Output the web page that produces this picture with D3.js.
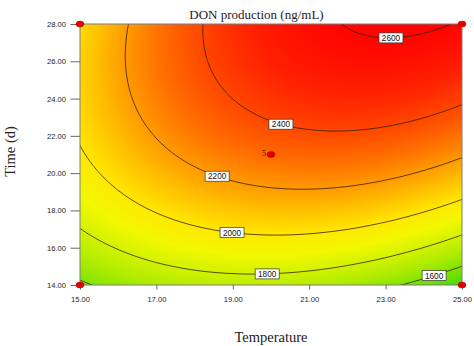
<!DOCTYPE html>
<html><head><meta charset="utf-8">
<script src="https://cdn.jsdelivr.net/npm/d3@7"></script>
<style>body{margin:0;background:#fff}svg{display:block}</style>
</head><body>
<svg id="c" width="474" height="346"></svg>
<script>
// ---------------- data ----------------
const levels = [1600, 1800, 2000, 2200, 2400, 2600];
const xTicks = [15, 17, 19, 21, 23, 25];
const yTicks = [14, 16, 18, 20, 22, 24, 26, 28];
// contour readings [temperature, time] for each response level
const c1600 = [[15.03,14.21],[15.30,14.0],[23.46,14.0],[24.42,14.63],[25.03,14.98]];
const c1800 = [[15.03,17.0],[15.81,16.15],[16.69,15.43],[17.57,14.90],[18.40,14.68],[19.27,14.57],[21.02,14.90],[21.86,15.05],[23.55,15.70],[25.03,16.72]];
const c2000 = [[15.03,21.24],[15.12,20.80],[15.81,19.54],[16.69,18.29],[17.57,17.40],[18.40,16.95],[19.71,16.68],[20.58,16.64],[21.86,16.87],[23.55,17.76],[25.03,18.65]];
const c2200 = [[16.26,28.0],[16.17,26.34],[16.34,24.53],[16.82,22.74],[17.30,21.03],[18.35,20.17],[19.27,19.27],[20.58,19.10],[21.86,19.19],[23.55,19.99],[25.03,20.80]];
const c2400 = [[18.22,28.0],[18.30,26.34],[18.40,25.43],[19.27,23.46],[20.26,22.77],[21.86,22.21],[23.55,22.74],[25.03,23.67]];
const c2600 = [[21.94,27.95],[22.51,27.41],[23.14,27.24],[23.93,27.41],[24.61,27.95]];
const labelTemps = [24.27, 19.9, 18.98, 18.59, 20.26, 23.14];
const designTemp = [15, 15, 25, 25, 20];
const designTime = [14, 28, 14, 28, 21];
const designLabel = ["", "", "", "", "5"];

// ---------------- surface fit (cubic in coded factors) ----------------
const readings = [[1600,c1600],[1800,c1800],[2000,c2000],[2200,c2200],[2400,c2400],[2600,c2600]];
function basis(T, t) {
  const A = (T - 20) / 5, B = (t - 21) / 7;
  return [1, A, B, A*B, A*A, B*B, A*A*B, A*B*B, A*A*A, B*B*B];
}
const K = 10;
const M = Array.from({length: K}, () => new Array(K).fill(0));
const V = new Array(K).fill(0);
readings.forEach(([lev, pts]) => pts.forEach(([T, t]) => {
  const p = basis(T, t);
  for (let i = 0; i < K; i++) { V[i] += p[i] * lev; for (let j = 0; j < K; j++) M[i][j] += p[i] * p[j]; }
}));
for (let i = 0; i < K; i++) M[i][i] += 1e-6;
function solve(A, b) {
  const n = b.length; A = A.map(r => r.slice()); b = b.slice();
  for (let c = 0; c < n; c++) {
    let piv = c;
    for (let r = c + 1; r < n; r++) if (Math.abs(A[r][c]) > Math.abs(A[piv][c])) piv = r;
    [A[c], A[piv]] = [A[piv], A[c]]; [b[c], b[piv]] = [b[piv], b[c]];
    for (let r = c + 1; r < n; r++) {
      const f = A[r][c] / A[c][c];
      for (let k = c; k < n; k++) A[r][k] -= f * A[c][k];
      b[r] -= f * b[c];
    }
  }
  const x = new Array(n).fill(0);
  for (let r = n - 1; r >= 0; r--) {
    let s = b[r];
    for (let k = r + 1; k < n; k++) s -= A[r][k] * x[k];
    x[r] = s / A[r][r];
  }
  return x;
}
const coef = solve(M, V);
const response = (T, t) => d3.sum(basis(T, t), (v, i) => v * coef[i]);

// ---------------- layout ----------------
const svg = d3.select("#c");
const x = d3.scaleLinear().domain([15, 25]).range([80, 462]);
const y = d3.scaleLinear().domain([14, 28]).range([285, 24]);
const color = d3.scaleLinear()
  .domain([1480, 1700, 1900, 2000, 2100, 2200, 2300, 2400, 2500, 2600])
  .range(["#48da00", "#b0ec00", "#f2f800", "#ffe800", "#ffc400", "#ff9a00", "#ff6e00", "#ff4600", "#ff2000", "#ff0400"])
  .interpolate(d3.interpolateRgb).clamp(true);

// gradient fill
const pw = 382, ph = 261;
const cv = document.createElement("canvas");
cv.width = pw; cv.height = ph;
const ctx = cv.getContext("2d");
const img = ctx.createImageData(pw, ph);
for (let j = 0; j < ph; j++) for (let i = 0; i < pw; i++) {
  const c = d3.rgb(color(response(x.invert(80 + i + 0.5), y.invert(24 + j + 0.5))));
  const k = (j * pw + i) * 4;
  img.data[k] = c.r; img.data[k+1] = c.g; img.data[k+2] = c.b; img.data[k+3] = 255;
}
ctx.putImageData(img, 0, 0);
svg.append("image").attr("x", 80).attr("y", 24).attr("width", pw).attr("height", ph)
  .attr("preserveAspectRatio", "none").attr("href", cv.toDataURL());

// contour lines
svg.append("clipPath").attr("id", "clip").append("rect")
  .attr("x", 80).attr("y", 24).attr("width", 382).attr("height", 261);
const gx0 = 76, gy0 = 20, gn = 392, gm = 270;
const grid = new Array(gn * gm);
for (let j = 0; j < gm; j++) for (let i = 0; i < gn; i++)
  grid[j * gn + i] = response(x.invert(gx0 + i), y.invert(gy0 + j));
const contours = d3.contours().size([gn, gm]).thresholds(levels)(grid);
const proj = d3.geoTransform({point(px, py) { this.stream.point(px + gx0 - 0.5, py + gy0 - 0.5); }});
svg.append("g").attr("clip-path", "url(#clip)")
  .selectAll("path").data(contours).join("path")
  .attr("d", d3.geoPath(proj))
  .attr("fill", "none").attr("stroke", "rgba(50,30,0,0.78)").attr("stroke-width", 1);

// frame
svg.append("rect").attr("x", 80).attr("y", 24).attr("width", 382).attr("height", 261)
  .attr("fill", "none").attr("stroke", "#7d7d7d").attr("stroke-width", 1);

// axes
const fmt = d3.format(".2f");
const ax = svg.append("g").attr("transform", "translate(0,285)")
  .call(d3.axisBottom(x).tickValues(xTicks).tickFormat(fmt).tickSize(4.5).tickPadding(7.5));
const ay = svg.append("g").attr("transform", "translate(80,0)")
  .call(d3.axisLeft(y).tickValues(yTicks).tickFormat(fmt).tickSize(9.5).tickPadding(4.5));
[ax, ay].forEach(g => {
  g.select(".domain").remove();
  g.selectAll("line").attr("stroke", "#666");
  g.selectAll("text").attr("font-family", "Liberation Sans, Arial, sans-serif")
    .attr("font-size", 7.6).attr("fill", "#222");
});

// contour labels
levels.forEach((lev, i) => {
  const T = labelTemps[i];
  let tt = null;
  for (let t = 14; t <= 28; t += 0.01) {
    if ((response(T, t) - lev) * (response(T, t + 0.01) - lev) <= 0) { tt = t + 0.005; break; }
  }
  if (tt === null) return;
  const g = svg.append("g").attr("transform", `translate(${x(T)},${y(tt)})`);
  g.append("rect").attr("x", -12).attr("y", -5).attr("width", 24).attr("height", 10)
    .attr("fill", "#fff").attr("stroke", "#333").attr("stroke-width", 0.7);
  g.append("text").attr("text-anchor", "middle").attr("y", 3)
    .attr("font-family", "Liberation Sans, Arial, sans-serif").attr("font-size", 8.2)
    .attr("fill", "#111").text(lev);
});

// design points
const pts = svg.append("g");
designTemp.forEach((T, i) => {
  pts.append("ellipse").attr("cx", x(T)).attr("cy", y(designTime[i])).attr("rx", 4).attr("ry", 3)
    .attr("fill", "#e00000").attr("stroke", "#b00000").attr("stroke-width", 0.5);
  if (designLabel[i]) pts.append("text").attr("x", x(T) - 7).attr("y", y(designTime[i]) + 1)
    .attr("text-anchor", "middle").attr("font-family", "Liberation Serif, Times New Roman, serif")
    .attr("font-size", 8).attr("fill", "#5a0000").text(designLabel[i]);
});

// titles
const serif = "Liberation Serif, Times New Roman, serif";
svg.append("text").attr("x", 256.5).attr("y", 19).attr("text-anchor", "middle")
  .attr("font-family", serif).attr("font-size", 13).attr("fill", "#222").text("DON production (ng/mL)");
svg.append("text").attr("x", 271).attr("y", 342).attr("text-anchor", "middle")
  .attr("font-family", serif).attr("font-size", 14.5).attr("fill", "#222").text("Temperature");
svg.append("text").attr("transform", "translate(15,151.5) rotate(-90)").attr("text-anchor", "middle")
  .attr("font-family", serif).attr("font-size", 14.5).attr("fill", "#222").text("Time (d)");
</script>
</body></html>
